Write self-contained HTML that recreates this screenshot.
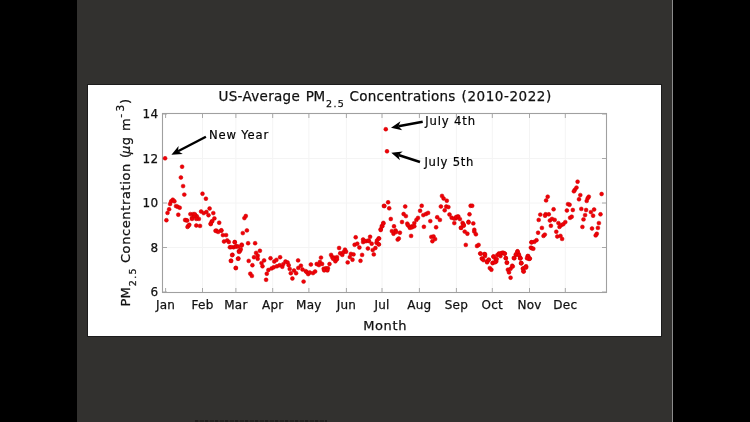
<!DOCTYPE html>
<html><head><meta charset="utf-8"><title>US-Average PM2.5 Concentrations</title>
<style>
html,body{margin:0;padding:0;background:#000;width:750px;height:422px;overflow:hidden}
#slide{position:absolute;left:77px;top:0;width:595px;height:422px;background:#32312f}
#edge{position:absolute;left:672px;top:0;width:1px;height:422px;background:#8c8c8c}
#foot{position:absolute;left:195px;top:420px;width:132px;height:2px;background:repeating-linear-gradient(90deg,#1f1e1c 0 3px,#2c2b29 3px 5px,#232220 5px 9px,#302f2d 9px 10px)}
#panel{position:absolute;left:88px;top:85px;width:573px;height:251px;background:#fff;box-shadow:0 0 0 1px #1c1c1c}
svg{position:absolute;left:0;top:0;will-change:transform}
</style></head><body>
<div id="slide"></div><div id="edge"></div><div id="panel"></div><div id="foot"></div>
<svg width="750" height="422" viewBox="0 0 750 422">
<path d="M202.5 113.5V292.5M235.9 113.5V292.5M272.7 113.5V292.5M308.9 113.5V292.5M346.4 113.5V292.5M382.0 113.5V292.5M419.4 113.5V292.5M456.4 113.5V292.5M492.3 113.5V292.5M529.5 113.5V292.5M565.3 113.5V292.5M162.5 247.5H606.5M162.5 203.0H606.5M162.5 158.5H606.5" stroke="#f4f4f4" stroke-width="1" fill="none"/>
<path d="M165.6 113.5v4.5M165.6 292.5v-4.5M202.5 113.5v4.5M202.5 292.5v-4.5M235.9 113.5v4.5M235.9 292.5v-4.5M272.7 113.5v4.5M272.7 292.5v-4.5M308.9 113.5v4.5M308.9 292.5v-4.5M346.4 113.5v4.5M346.4 292.5v-4.5M382.0 113.5v4.5M382.0 292.5v-4.5M419.4 113.5v4.5M419.4 292.5v-4.5M456.4 113.5v4.5M456.4 292.5v-4.5M492.3 113.5v4.5M492.3 292.5v-4.5M529.5 113.5v4.5M529.5 292.5v-4.5M565.3 113.5v4.5M565.3 292.5v-4.5M162.5 292.0h4.5M606.5 292.0h-4.5M162.5 247.5h4.5M606.5 247.5h-4.5M162.5 203.0h4.5M606.5 203.0h-4.5M162.5 158.5h4.5M606.5 158.5h-4.5M162.5 114.0h4.5M606.5 114.0h-4.5" stroke="#a8a8a8" stroke-width="1" fill="none"/>
<rect x="162.5" y="113.5" width="444.0" height="179.0" fill="none" stroke="#a0a0a0" stroke-width="1.1"/>
<g fill="#f00008" stroke="#cc0000" stroke-width="0.5"><circle cx="165.1" cy="158.3" r="1.95"/><circle cx="182.1" cy="166.7" r="1.95"/><circle cx="180.9" cy="177.5" r="1.95"/><circle cx="183.1" cy="186.1" r="1.95"/><circle cx="184.3" cy="194.6" r="1.95"/><circle cx="202.5" cy="193.7" r="1.95"/><circle cx="166.4" cy="220.2" r="1.95"/><circle cx="167.5" cy="212.9" r="1.95"/><circle cx="169.1" cy="209.3" r="1.95"/><circle cx="170.1" cy="204.0" r="1.95"/><circle cx="171.2" cy="201.3" r="1.95"/><circle cx="172.8" cy="199.7" r="1.95"/><circle cx="174.4" cy="201.3" r="1.95"/><circle cx="176.0" cy="206.1" r="1.95"/><circle cx="177.6" cy="206.7" r="1.95"/><circle cx="179.7" cy="207.7" r="1.95"/><circle cx="178.3" cy="214.7" r="1.95"/><circle cx="186.1" cy="220.2" r="1.95"/><circle cx="188.3" cy="225.9" r="1.95"/><circle cx="190.4" cy="214.1" r="1.95"/><circle cx="193.1" cy="214.1" r="1.95"/><circle cx="192.0" cy="217.9" r="1.95"/><circle cx="195.2" cy="215.2" r="1.95"/><circle cx="196.8" cy="216.3" r="1.95"/><circle cx="198.9" cy="218.9" r="1.95"/><circle cx="196.3" cy="225.5" r="1.95"/><circle cx="200.0" cy="225.9" r="1.95"/><circle cx="205.9" cy="198.7" r="1.95"/><circle cx="201.1" cy="211.5" r="1.95"/><circle cx="203.7" cy="213.1" r="1.95"/><circle cx="206.4" cy="212.0" r="1.95"/><circle cx="208.5" cy="215.2" r="1.95"/><circle cx="209.6" cy="208.5" r="1.95"/><circle cx="213.3" cy="213.1" r="1.95"/><circle cx="214.4" cy="218.4" r="1.95"/><circle cx="211.7" cy="221.6" r="1.95"/><circle cx="210.7" cy="224.1" r="1.95"/><circle cx="219.2" cy="222.7" r="1.95"/><circle cx="216.5" cy="230.7" r="1.95"/><circle cx="221.3" cy="230.7" r="1.95"/><circle cx="215.5" cy="230.8" r="1.95"/><circle cx="218.1" cy="231.9" r="1.95"/><circle cx="221.3" cy="230.3" r="1.95"/><circle cx="222.9" cy="235.1" r="1.95"/><circle cx="226.1" cy="235.1" r="1.95"/><circle cx="224.0" cy="241.5" r="1.95"/><circle cx="227.2" cy="240.4" r="1.95"/><circle cx="228.8" cy="242.0" r="1.95"/><circle cx="234.7" cy="242.0" r="1.95"/><circle cx="229.9" cy="247.3" r="1.95"/><circle cx="233.6" cy="247.3" r="1.95"/><circle cx="236.3" cy="246.3" r="1.95"/><circle cx="238.9" cy="251.1" r="1.95"/><circle cx="232.5" cy="254.8" r="1.95"/><circle cx="230.9" cy="260.7" r="1.95"/><circle cx="238.4" cy="258.5" r="1.95"/><circle cx="235.7" cy="268.1" r="1.95"/><circle cx="244.4" cy="218.1" r="1.95"/><circle cx="245.8" cy="216.0" r="1.95"/><circle cx="242.8" cy="233.1" r="1.95"/><circle cx="246.9" cy="230.4" r="1.95"/><circle cx="241.7" cy="244.6" r="1.95"/><circle cx="248.1" cy="243.2" r="1.95"/><circle cx="255.1" cy="243.2" r="1.95"/><circle cx="231.1" cy="247.1" r="1.95"/><circle cx="234.8" cy="242.3" r="1.95"/><circle cx="235.9" cy="246.5" r="1.95"/><circle cx="238.0" cy="246.5" r="1.95"/><circle cx="240.1" cy="250.8" r="1.95"/><circle cx="241.7" cy="245.5" r="1.95"/><circle cx="232.1" cy="255.1" r="1.95"/><circle cx="231.1" cy="260.9" r="1.95"/><circle cx="238.0" cy="258.8" r="1.95"/><circle cx="235.9" cy="267.9" r="1.95"/><circle cx="248.7" cy="260.9" r="1.95"/><circle cx="252.4" cy="265.2" r="1.95"/><circle cx="250.3" cy="273.7" r="1.95"/><circle cx="251.9" cy="275.9" r="1.95"/><circle cx="254.0" cy="257.2" r="1.95"/><circle cx="256.1" cy="252.9" r="1.95"/><circle cx="257.7" cy="255.6" r="1.95"/><circle cx="257.7" cy="258.8" r="1.95"/><circle cx="259.9" cy="250.8" r="1.95"/><circle cx="261.5" cy="263.1" r="1.95"/><circle cx="264.1" cy="260.4" r="1.95"/><circle cx="262.5" cy="266.3" r="1.95"/><circle cx="266.8" cy="273.7" r="1.95"/><circle cx="266.1" cy="279.8" r="1.95"/><circle cx="268.4" cy="270.0" r="1.95"/><circle cx="270.5" cy="258.3" r="1.95"/><circle cx="271.6" cy="268.4" r="1.95"/><circle cx="273.7" cy="267.3" r="1.95"/><circle cx="274.3" cy="261.5" r="1.95"/><circle cx="276.4" cy="259.9" r="1.95"/><circle cx="276.9" cy="266.3" r="1.95"/><circle cx="280.1" cy="257.2" r="1.95"/><circle cx="279.6" cy="265.2" r="1.95"/><circle cx="282.3" cy="266.8" r="1.95"/><circle cx="283.3" cy="264.1" r="1.95"/><circle cx="285.5" cy="261.5" r="1.95"/><circle cx="287.6" cy="262.5" r="1.95"/><circle cx="288.7" cy="265.2" r="1.95"/><circle cx="289.7" cy="268.9" r="1.95"/><circle cx="290.8" cy="273.2" r="1.95"/><circle cx="292.4" cy="278.5" r="1.95"/><circle cx="294.0" cy="270.5" r="1.95"/><circle cx="296.1" cy="273.2" r="1.95"/><circle cx="298.1" cy="260.4" r="1.95"/><circle cx="298.3" cy="267.9" r="1.95"/><circle cx="300.9" cy="265.7" r="1.95"/><circle cx="302.5" cy="269.5" r="1.95"/><circle cx="303.6" cy="281.6" r="1.95"/><circle cx="305.7" cy="271.1" r="1.95"/><circle cx="308.4" cy="273.2" r="1.95"/><circle cx="306.6" cy="272.0" r="1.95"/><circle cx="308.2" cy="274.1" r="1.95"/><circle cx="309.8" cy="272.5" r="1.95"/><circle cx="310.9" cy="264.5" r="1.95"/><circle cx="313.0" cy="273.1" r="1.95"/><circle cx="315.1" cy="271.5" r="1.95"/><circle cx="316.7" cy="264.0" r="1.95"/><circle cx="318.9" cy="265.1" r="1.95"/><circle cx="319.9" cy="261.9" r="1.95"/><circle cx="321.0" cy="257.6" r="1.95"/><circle cx="322.1" cy="264.0" r="1.95"/><circle cx="323.7" cy="268.8" r="1.95"/><circle cx="325.8" cy="268.3" r="1.95"/><circle cx="327.9" cy="268.3" r="1.95"/><circle cx="329.5" cy="264.0" r="1.95"/><circle cx="331.1" cy="254.9" r="1.95"/><circle cx="332.2" cy="257.1" r="1.95"/><circle cx="334.3" cy="257.6" r="1.95"/><circle cx="335.4" cy="261.3" r="1.95"/><circle cx="337.0" cy="257.1" r="1.95"/><circle cx="339.1" cy="248.0" r="1.95"/><circle cx="340.2" cy="253.3" r="1.95"/><circle cx="342.3" cy="254.9" r="1.95"/><circle cx="343.4" cy="252.3" r="1.95"/><circle cx="345.0" cy="249.6" r="1.95"/><circle cx="346.1" cy="251.7" r="1.95"/><circle cx="347.7" cy="262.4" r="1.95"/><circle cx="349.8" cy="257.1" r="1.95"/><circle cx="350.9" cy="253.9" r="1.95"/><circle cx="352.5" cy="259.7" r="1.95"/><circle cx="353.5" cy="254.4" r="1.95"/><circle cx="354.6" cy="244.8" r="1.95"/><circle cx="357.3" cy="243.7" r="1.95"/><circle cx="359.4" cy="247.5" r="1.95"/><circle cx="360.5" cy="260.8" r="1.95"/><circle cx="362.1" cy="254.9" r="1.95"/><circle cx="363.1" cy="242.1" r="1.95"/><circle cx="366.3" cy="241.1" r="1.95"/><circle cx="367.9" cy="248.5" r="1.95"/><circle cx="369.0" cy="241.1" r="1.95"/><circle cx="371.7" cy="243.7" r="1.95"/><circle cx="372.7" cy="250.1" r="1.95"/><circle cx="373.8" cy="254.4" r="1.95"/><circle cx="375.4" cy="248.0" r="1.95"/><circle cx="376.5" cy="242.7" r="1.95"/><circle cx="378.6" cy="244.3" r="1.95"/><circle cx="383.9" cy="205.9" r="1.95"/><circle cx="383.4" cy="222.9" r="1.95"/><circle cx="381.8" cy="226.1" r="1.95"/><circle cx="380.7" cy="229.3" r="1.95"/><circle cx="355.7" cy="237.3" r="1.95"/><circle cx="363.1" cy="239.5" r="1.95"/><circle cx="364.7" cy="241.1" r="1.95"/><circle cx="370.1" cy="236.8" r="1.95"/><circle cx="368.5" cy="240.5" r="1.95"/><circle cx="378.6" cy="238.4" r="1.95"/><circle cx="377.0" cy="240.5" r="1.95"/><circle cx="384.4" cy="206.0" r="1.95"/><circle cx="388.1" cy="202.3" r="1.95"/><circle cx="389.2" cy="208.3" r="1.95"/><circle cx="380.7" cy="230.0" r="1.95"/><circle cx="382.3" cy="226.3" r="1.95"/><circle cx="383.3" cy="223.6" r="1.95"/><circle cx="390.8" cy="219.0" r="1.95"/><circle cx="391.9" cy="231.1" r="1.95"/><circle cx="394.0" cy="226.3" r="1.95"/><circle cx="395.6" cy="230.5" r="1.95"/><circle cx="399.9" cy="232.7" r="1.95"/><circle cx="405.2" cy="206.5" r="1.95"/><circle cx="403.6" cy="214.0" r="1.95"/><circle cx="405.9" cy="216.1" r="1.95"/><circle cx="402.0" cy="222.0" r="1.95"/><circle cx="407.3" cy="223.6" r="1.95"/><circle cx="409.5" cy="226.8" r="1.95"/><circle cx="412.1" cy="226.3" r="1.95"/><circle cx="414.3" cy="223.1" r="1.95"/><circle cx="416.4" cy="219.9" r="1.95"/><circle cx="418.0" cy="217.9" r="1.95"/><circle cx="420.1" cy="210.8" r="1.95"/><circle cx="421.7" cy="205.8" r="1.95"/><circle cx="423.3" cy="215.1" r="1.95"/><circle cx="426.0" cy="214.0" r="1.95"/><circle cx="428.1" cy="212.9" r="1.95"/><circle cx="430.3" cy="221.1" r="1.95"/><circle cx="423.9" cy="226.8" r="1.95"/><circle cx="436.1" cy="227.3" r="1.95"/><circle cx="437.2" cy="217.2" r="1.95"/><circle cx="439.9" cy="219.9" r="1.95"/><circle cx="440.9" cy="206.5" r="1.95"/><circle cx="442.0" cy="195.9" r="1.95"/><circle cx="443.6" cy="198.5" r="1.95"/><circle cx="446.8" cy="200.7" r="1.95"/><circle cx="444.7" cy="210.3" r="1.95"/><circle cx="446.3" cy="206.5" r="1.95"/><circle cx="448.4" cy="207.1" r="1.95"/><circle cx="449.5" cy="214.5" r="1.95"/><circle cx="451.6" cy="217.7" r="1.95"/><circle cx="454.3" cy="223.1" r="1.95"/><circle cx="455.9" cy="218.3" r="1.95"/><circle cx="457.5" cy="216.7" r="1.95"/><circle cx="379.1" cy="238.5" r="1.95"/><circle cx="378.9" cy="244.4" r="1.95"/><circle cx="393.5" cy="233.7" r="1.95"/><circle cx="396.1" cy="232.1" r="1.95"/><circle cx="397.7" cy="239.6" r="1.95"/><circle cx="398.8" cy="238.5" r="1.95"/><circle cx="407.9" cy="225.2" r="1.95"/><circle cx="410.0" cy="227.9" r="1.95"/><circle cx="412.1" cy="227.3" r="1.95"/><circle cx="414.3" cy="226.3" r="1.95"/><circle cx="411.1" cy="235.9" r="1.95"/><circle cx="431.3" cy="236.9" r="1.95"/><circle cx="433.5" cy="236.4" r="1.95"/><circle cx="435.1" cy="239.1" r="1.95"/><circle cx="432.4" cy="241.2" r="1.95"/><circle cx="470.6" cy="205.8" r="1.95"/><circle cx="472.2" cy="205.8" r="1.95"/><circle cx="469.5" cy="214.3" r="1.95"/><circle cx="468.5" cy="221.8" r="1.95"/><circle cx="473.3" cy="223.4" r="1.95"/><circle cx="454.1" cy="218.6" r="1.95"/><circle cx="456.2" cy="217.0" r="1.95"/><circle cx="458.3" cy="216.5" r="1.95"/><circle cx="459.9" cy="219.1" r="1.95"/><circle cx="462.6" cy="222.9" r="1.95"/><circle cx="463.7" cy="225.0" r="1.95"/><circle cx="461.0" cy="227.7" r="1.95"/><circle cx="474.3" cy="229.8" r="1.95"/><circle cx="463.1" cy="224.1" r="1.95"/><circle cx="463.7" cy="225.7" r="1.95"/><circle cx="468.5" cy="222.5" r="1.95"/><circle cx="461.0" cy="227.9" r="1.95"/><circle cx="464.7" cy="231.6" r="1.95"/><circle cx="467.4" cy="233.7" r="1.95"/><circle cx="474.3" cy="231.6" r="1.95"/><circle cx="475.9" cy="234.3" r="1.95"/><circle cx="465.8" cy="244.9" r="1.95"/><circle cx="477.0" cy="246.0" r="1.95"/><circle cx="478.6" cy="244.9" r="1.95"/><circle cx="480.2" cy="253.5" r="1.95"/><circle cx="482.3" cy="258.8" r="1.95"/><circle cx="484.5" cy="254.0" r="1.95"/><circle cx="485.0" cy="256.1" r="1.95"/><circle cx="487.1" cy="261.5" r="1.95"/><circle cx="488.7" cy="259.9" r="1.95"/><circle cx="492.5" cy="263.1" r="1.95"/><circle cx="493.5" cy="256.7" r="1.95"/><circle cx="495.7" cy="259.3" r="1.95"/><circle cx="496.2" cy="261.5" r="1.95"/><circle cx="497.3" cy="255.1" r="1.95"/><circle cx="498.9" cy="253.5" r="1.95"/><circle cx="500.5" cy="256.1" r="1.95"/><circle cx="502.1" cy="252.9" r="1.95"/><circle cx="504.7" cy="253.5" r="1.95"/><circle cx="505.8" cy="258.3" r="1.95"/><circle cx="506.9" cy="262.5" r="1.95"/><circle cx="512.2" cy="265.7" r="1.95"/><circle cx="514.3" cy="258.3" r="1.95"/><circle cx="515.9" cy="255.1" r="1.95"/><circle cx="517.5" cy="251.3" r="1.95"/><circle cx="518.6" cy="254.0" r="1.95"/><circle cx="520.2" cy="258.3" r="1.95"/><circle cx="521.3" cy="263.1" r="1.95"/><circle cx="527.7" cy="256.1" r="1.95"/><circle cx="528.7" cy="258.8" r="1.95"/><circle cx="526.1" cy="266.3" r="1.95"/><circle cx="531.4" cy="242.3" r="1.95"/><circle cx="530.9" cy="247.6" r="1.95"/><circle cx="480.7" cy="253.7" r="1.95"/><circle cx="481.8" cy="258.5" r="1.95"/><circle cx="483.4" cy="260.1" r="1.95"/><circle cx="485.0" cy="254.3" r="1.95"/><circle cx="487.1" cy="262.3" r="1.95"/><circle cx="488.7" cy="259.6" r="1.95"/><circle cx="489.8" cy="268.1" r="1.95"/><circle cx="491.4" cy="269.7" r="1.95"/><circle cx="493.5" cy="256.4" r="1.95"/><circle cx="493.0" cy="262.8" r="1.95"/><circle cx="495.1" cy="262.3" r="1.95"/><circle cx="496.7" cy="259.1" r="1.95"/><circle cx="498.9" cy="254.3" r="1.95"/><circle cx="501.0" cy="253.2" r="1.95"/><circle cx="503.1" cy="252.7" r="1.95"/><circle cx="504.7" cy="253.7" r="1.95"/><circle cx="505.8" cy="258.0" r="1.95"/><circle cx="506.9" cy="262.8" r="1.95"/><circle cx="507.9" cy="269.7" r="1.95"/><circle cx="509.0" cy="272.4" r="1.95"/><circle cx="510.6" cy="268.7" r="1.95"/><circle cx="512.7" cy="266.5" r="1.95"/><circle cx="510.6" cy="277.7" r="1.95"/><circle cx="513.8" cy="258.0" r="1.95"/><circle cx="515.9" cy="254.3" r="1.95"/><circle cx="517.5" cy="251.6" r="1.95"/><circle cx="519.1" cy="255.3" r="1.95"/><circle cx="520.2" cy="258.0" r="1.95"/><circle cx="521.3" cy="263.3" r="1.95"/><circle cx="522.9" cy="268.7" r="1.95"/><circle cx="523.4" cy="271.3" r="1.95"/><circle cx="526.1" cy="267.6" r="1.95"/><circle cx="528.2" cy="256.4" r="1.95"/><circle cx="529.8" cy="258.5" r="1.95"/><circle cx="577.6" cy="181.7" r="1.95"/><circle cx="576.5" cy="187.6" r="1.95"/><circle cx="574.9" cy="189.7" r="1.95"/><circle cx="573.9" cy="191.3" r="1.95"/><circle cx="580.3" cy="195.1" r="1.95"/><circle cx="579.0" cy="199.3" r="1.95"/><circle cx="588.8" cy="196.7" r="1.95"/><circle cx="587.7" cy="198.3" r="1.95"/><circle cx="586.7" cy="200.9" r="1.95"/><circle cx="601.6" cy="194.0" r="1.95"/><circle cx="547.7" cy="196.7" r="1.95"/><circle cx="546.1" cy="200.4" r="1.95"/><circle cx="568.0" cy="204.1" r="1.95"/><circle cx="569.6" cy="204.7" r="1.95"/><circle cx="553.6" cy="209.3" r="1.95"/><circle cx="566.9" cy="210.5" r="1.95"/><circle cx="572.8" cy="210.0" r="1.95"/><circle cx="581.3" cy="208.9" r="1.95"/><circle cx="586.1" cy="210.0" r="1.95"/><circle cx="594.1" cy="209.5" r="1.95"/><circle cx="590.9" cy="212.1" r="1.95"/><circle cx="600.5" cy="214.3" r="1.95"/><circle cx="540.3" cy="214.6" r="1.95"/><circle cx="545.6" cy="214.3" r="1.95"/><circle cx="548.8" cy="214.3" r="1.95"/><circle cx="593.1" cy="215.7" r="1.95"/><circle cx="545.1" cy="215.7" r="1.95"/><circle cx="538.7" cy="219.9" r="1.95"/><circle cx="549.9" cy="220.5" r="1.95"/><circle cx="552.0" cy="218.9" r="1.95"/><circle cx="554.7" cy="219.9" r="1.95"/><circle cx="558.4" cy="223.1" r="1.95"/><circle cx="550.9" cy="225.8" r="1.95"/><circle cx="559.5" cy="226.9" r="1.95"/><circle cx="561.1" cy="225.3" r="1.95"/><circle cx="563.2" cy="224.2" r="1.95"/><circle cx="565.3" cy="222.1" r="1.95"/><circle cx="570.1" cy="217.8" r="1.95"/><circle cx="571.7" cy="216.7" r="1.95"/><circle cx="585.1" cy="215.1" r="1.95"/><circle cx="583.5" cy="219.4" r="1.95"/><circle cx="582.4" cy="226.9" r="1.95"/><circle cx="592.0" cy="228.5" r="1.95"/><circle cx="598.9" cy="223.1" r="1.95"/><circle cx="597.9" cy="227.9" r="1.95"/><circle cx="596.8" cy="233.8" r="1.95"/><circle cx="595.7" cy="235.4" r="1.95"/><circle cx="541.9" cy="227.9" r="1.95"/><circle cx="538.1" cy="232.7" r="1.95"/><circle cx="543.5" cy="235.9" r="1.95"/><circle cx="556.3" cy="231.7" r="1.95"/><circle cx="557.3" cy="236.5" r="1.95"/><circle cx="560.5" cy="235.9" r="1.95"/><circle cx="562.1" cy="238.9" r="1.95"/><circle cx="536.5" cy="240.2" r="1.95"/><circle cx="534.4" cy="241.8" r="1.95"/><circle cx="531.7" cy="242.3" r="1.95"/><circle cx="531.7" cy="248.2" r="1.95"/><circle cx="533.3" cy="248.7" r="1.95"/><circle cx="528.0" cy="256.1" r="1.95"/><circle cx="529.6" cy="258.8" r="1.95"/><circle cx="520.5" cy="258.3" r="1.95"/><circle cx="521.1" cy="263.1" r="1.95"/><circle cx="523.2" cy="268.4" r="1.95"/><circle cx="525.3" cy="267.3" r="1.95"/><circle cx="523.7" cy="271.6" r="1.95"/><circle cx="385.8" cy="129.2" r="1.95"/><circle cx="387.0" cy="151.3" r="1.95"/><circle cx="194.1" cy="216.3" r="1.95"/><circle cx="196.3" cy="218.9" r="1.95"/><circle cx="192.0" cy="218.9" r="1.95"/><circle cx="194.7" cy="214.1" r="1.95"/><circle cx="185.1" cy="220.0" r="1.95"/><circle cx="187.2" cy="220.5" r="1.95"/><circle cx="187.5" cy="226.9" r="1.95"/><circle cx="189.3" cy="224.8" r="1.95"/><circle cx="210.7" cy="223.7" r="1.95"/><circle cx="212.3" cy="221.1" r="1.95"/><circle cx="240.7" cy="249.2" r="1.95"/><circle cx="239.1" cy="251.9" r="1.95"/><circle cx="324.2" cy="270.4" r="1.95"/><circle cx="327.4" cy="270.4" r="1.95"/><circle cx="333.1" cy="258.7" r="1.95"/><circle cx="337.0" cy="259.2" r="1.95"/><circle cx="544.8" cy="234.6" r="1.95"/><circle cx="527.0" cy="258.2" r="1.95"/></g>
<g font-family='"DejaVu Sans", "Liberation Sans", sans-serif' font-size="12" letter-spacing="0.25" fill="#111" stroke="#111" stroke-width="0.25"><text x="165.6" y="309.1" text-anchor="middle">Jan</text><text x="202.5" y="309.1" text-anchor="middle">Feb</text><text x="235.9" y="309.1" text-anchor="middle">Mar</text><text x="272.7" y="309.1" text-anchor="middle">Apr</text><text x="308.9" y="309.1" text-anchor="middle">May</text><text x="346.4" y="309.1" text-anchor="middle">Jun</text><text x="382.0" y="309.1" text-anchor="middle">Jul</text><text x="419.4" y="309.1" text-anchor="middle">Aug</text><text x="456.4" y="309.1" text-anchor="middle">Sep</text><text x="492.3" y="309.1" text-anchor="middle">Oct</text><text x="529.5" y="309.1" text-anchor="middle">Nov</text><text x="565.3" y="309.1" text-anchor="middle">Dec</text><text x="158.3" y="296.4" text-anchor="end">6</text><text x="158.3" y="251.9" text-anchor="end">8</text><text x="158.3" y="207.4" text-anchor="end">10</text><text x="158.3" y="162.9" text-anchor="end">12</text><text x="158.3" y="118.4" text-anchor="end">14</text></g>
<g font-family='"DejaVu Sans", "Liberation Sans", sans-serif' fill="#111" stroke="#111" stroke-width="0.25"><text x="218.5" y="100.9" font-size="13.5" textLength="81.3" lengthAdjust="spacing">US-Average</text><text x="305.8" y="100.9" font-size="13.5" textLength="19.3" lengthAdjust="spacing">PM</text><text x="326.0" y="107.4" font-size="9.5" textLength="17.8" lengthAdjust="spacing">2.5</text><text x="349.6" y="100.9" font-size="13.5" textLength="105.7" lengthAdjust="spacing">Concentrations</text><text x="461.6" y="100.9" font-size="13.5" textLength="89.6" lengthAdjust="spacing">(2010-2022)</text><text x="363.2" y="329.9" font-size="13" textLength="43.2" lengthAdjust="spacing">Month</text></g>
<g transform="translate(131 0) rotate(-90)" font-family='"DejaVu Sans", "Liberation Sans", sans-serif' fill="#111" stroke="#111" stroke-width="0.25"><text x="-306.5" y="-1.1" font-size="13" textLength="19.1" lengthAdjust="spacing">PM</text><text x="-286.3" y="4.6" font-size="9.5" textLength="17.9" lengthAdjust="spacing">2.5</text><text x="-263.1" y="-1.1" font-size="13" textLength="99.3" lengthAdjust="spacing">Concentration</text><text x="-158.1" y="-1.1" font-size="13" textLength="4.7" lengthAdjust="spacing">(</text><text x="-153.9" y="-1.1" font-size="13" textLength="16.9" lengthAdjust="spacing"><tspan font-style="italic">&#956;</tspan>g</text><text x="-131.1" y="-1.1" font-size="13" textLength="11.7" lengthAdjust="spacing">m</text><text x="-117.8" y="-7.1" font-size="10.5" textLength="13.1" lengthAdjust="spacing">-3</text><text x="-103.9" y="-1.1" font-size="13" textLength="4.7" lengthAdjust="spacing">)</text></g>
<g font-family='"DejaVu Sans", "Liberation Sans", sans-serif' fill="#000" stroke="#000" stroke-width="0.2"><text x="208.9" y="138.7" font-size="11.6" textLength="59.4" lengthAdjust="spacing">New Year</text><text x="425.2" y="125.4" font-size="11.6" textLength="49.8" lengthAdjust="spacing">July 4th</text><text x="424.4" y="165.8" font-size="11.6" textLength="49.0" lengthAdjust="spacing">July 5th</text></g>
<path d="M205.9 136.8L178.0 151.3" stroke="#000" stroke-width="2.4" stroke-linecap="butt"/><path d="M171.4 154.8L182.8 154.0L178.0 151.3L178.6 145.9Z" fill="#000"/>
<path d="M422.7 121.7L398.4 126.3" stroke="#000" stroke-width="2.4" stroke-linecap="butt"/><path d="M391.0 127.7L402.2 130.3L398.4 126.3L400.5 121.2Z" fill="#000"/>
<path d="M420.0 162.0L398.4 155.0" stroke="#000" stroke-width="2.4" stroke-linecap="butt"/><path d="M391.3 152.7L399.9 160.3L398.4 155.0L402.7 151.6Z" fill="#000"/>
</svg>
</body></html>
